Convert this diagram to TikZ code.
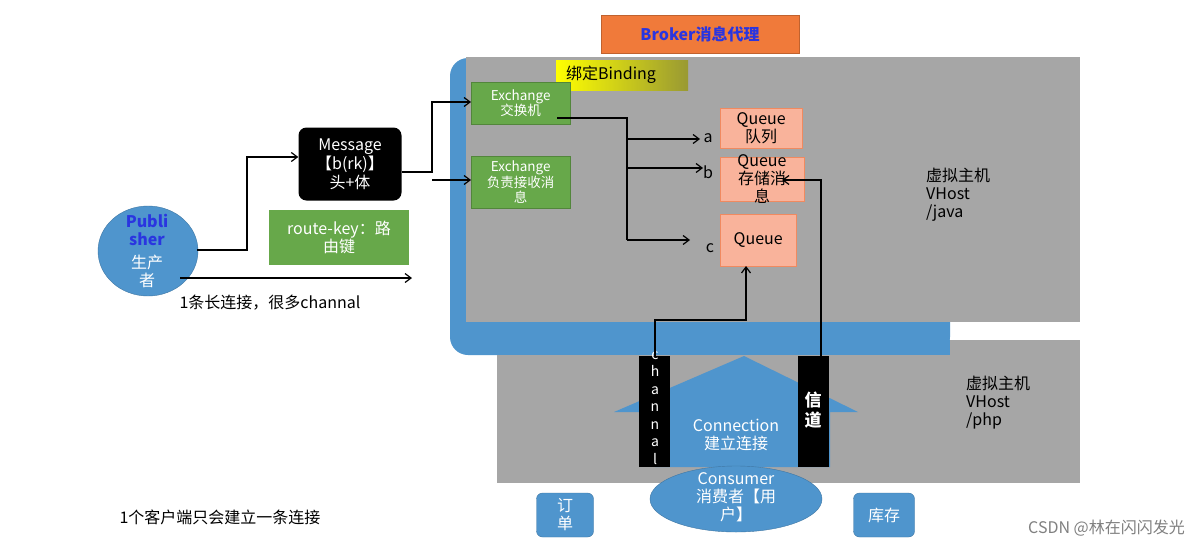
\documentclass[tikz,border=0pt]{standalone}
\usepackage{fontspec}
\setmainfont{Noto Sans CJK SC}
\usetikzlibrary{arrows.meta,shapes.geometric}
\definecolor{bl}{HTML}{4F95CD}
\definecolor{gr}{HTML}{A6A6A6}
\definecolor{gn}{HTML}{67A84A}
\definecolor{og}{HTML}{F07A3A}
\definecolor{qf}{HTML}{F9B39B}
\definecolor{qe}{HTML}{F08A60}
\definecolor{tb}{HTML}{2A35E0}
\tikzset{
 txt/.style={font=\fontsize{16}{18}\selectfont, align=center, inner sep=0pt},
 ex/.style={fill=gn, draw=gn!80!black, txt, text=white, font=\fontsize{13.5}{15.5}\selectfont, minimum width=99pt, anchor=north west},
 qu/.style={fill=qf, draw=qe, txt, anchor=north west},
 ar/.style={-{Straight Barb[length=6pt,width=9pt]}, line width=1.2pt},
 ln/.style={line width=1.2pt},
 bar/.style={fill=black, anchor=north west, minimum width=31pt, minimum height=111pt, inner sep=0pt},
 lb/.style={txt, anchor=north west, align=left},
}
\begin{document}
\begin{tikzpicture}[x=1pt,y=-1pt]
\useasboundingbox (0,0) rectangle (1198,549);
\fill[white] (0,0) rectangle (1198,549);
% frames
\fill[bl, rounded corners=18pt] (450,58) rectangle (950,355);
\fill[gr] (466,57) rectangle (1080,322);
\fill[gr] (497,340) rectangle (1080,483);
\fill[bl] (497,340) rectangle (950,355);
\node[fill=og, draw=og!80!black, minimum width=198pt, minimum height=38pt, txt, text=tb, font=\bfseries\fontsize{16}{18}\selectfont] (broker) at (700,34) {Broker消息代理};
\shade[left color=yellow, right color=yellow!50!black!80] (556,60) rectangle (688,90);
\node[txt, anchor=west] (bind) at (566,75) {绑定Binding};
\node[ex, minimum height=42pt] (ex1) at (471,82) {Exchange\\交换机};
\node[ex, minimum height=52pt] (ex2) at (471,156) {Exchange\\负责接收消\\息};
\node[qu, minimum width=82pt, minimum height=40pt] (qa) at (720,108) {Queue\\队列};
\node[qu, minimum width=84pt, minimum height=44pt] (qb) at (720,157) {};
\node[txt] at (762,179) {Queue\\存储消\\息};
\node[qu, minimum width=76pt, minimum height=52pt] (qc) at (720,214) {Queue};
\node[txt] (la) at (708,138) {a};
\node[txt] (lb) at (708,172) {b};
\node[txt] (lc) at (710,248) {c};
\coordinate (j) at (627,118);
\draw[ln] (557,118) -- (j) -- (627,240);
\draw[ar] (627,139) -- (700,139);
\draw[ar] (627,168) -- (703,168);
\draw[ar] (627,240) -- (690,240);
% message
\node[fill=black, rounded corners=8pt, minimum width=103pt, minimum height=73pt, txt, text=white, font=\fontsize{16}{19}\selectfont] (msg) at (350,164) {Message\\【b(rk)】\\头+体};
\draw[ar] (msg.east |- 0,172) -- (432,172) -- (432,102) -- (ex1.west |- 0,102);
\draw[ar] (432,180) -- (ex2.west |- 0,180);
\node[ellipse, fill=bl, draw=bl!80!black, minimum width=100pt, minimum height=90pt, inner sep=0pt] (pub) at (148,251) {};
\node[txt, font=\bfseries\fontsize{16}{18}\selectfont, text=tb] at (147,230) {Publi\\sher};
\node[txt, text=white] at (147,271) {生产\\者};
\draw[ar] (197,250) -- (247,250) -- (247,157) -- (msg.west |- 0,157);
\draw[ar] (180,278) -- (412,278);
\node[txt] (long) at (270,303) {1条长连接，很多channal};
\node[fill=gn, minimum width=140pt, minimum height=55pt, txt, text=white] (rk) at (339,237) {route-key：路\\由键};
% connection
\fill[bl] (614,412) -- (744,356) -- (858,412) -- (830,412) -- (830,467) -- (655,467) -- (655,412) -- cycle;
\node[txt, text=white] (conn) at (736,435) {Connection\\建立连接};
\node[bar] (ch) at (639,356) {};
\node[txt, text=white, font=\fontsize{14}{17.5}\selectfont] at (655,408) {c\\h\\a\\n\\n\\a\\l};
\node[bar] (xd) at (798,356) {};
\node[txt, text=white, font=\bfseries\fontsize{17}{20}\selectfont] at (813,410) {信\\道};
\draw[ar] (655,356) -- (655,320) -- (746,320) -- (746,266);
\draw[ar] (821,356) -- (821,180) -- (782,180);
\node[ellipse, fill=bl, draw=bl!80!black, minimum width=172pt, minimum height=66pt, inner sep=0pt] (cons) at (736,499) {};
\node[txt, text=white, font=\fontsize{16}{18}\selectfont] at (736,497) {Consumer\\消费者【用\\户】};
\node[fill=bl, draw=bl!80!black, rounded corners=6pt, minimum width=57pt, minimum height=44pt, txt, text=white] (dd) at (565,515) {订\\单};
\node[fill=bl, draw=bl!80!black, rounded corners=6pt, minimum width=61pt, minimum height=44pt, txt, text=white] (kc) at (884,515) {库存};
\node[txt] (note) at (220,517) {1个客户端只会建立一条连接};
\node[lb] (vj) at (926,168) {虚拟主机\\VHost\\/java};
\node[lb] (vp) at (966,376) {虚拟主机\\VHost\\/php};
\node[txt, text=gray, anchor=east] (wm) at (1185,528) {CSDN @林在闪闪发光};
\end{tikzpicture}
\end{document}
